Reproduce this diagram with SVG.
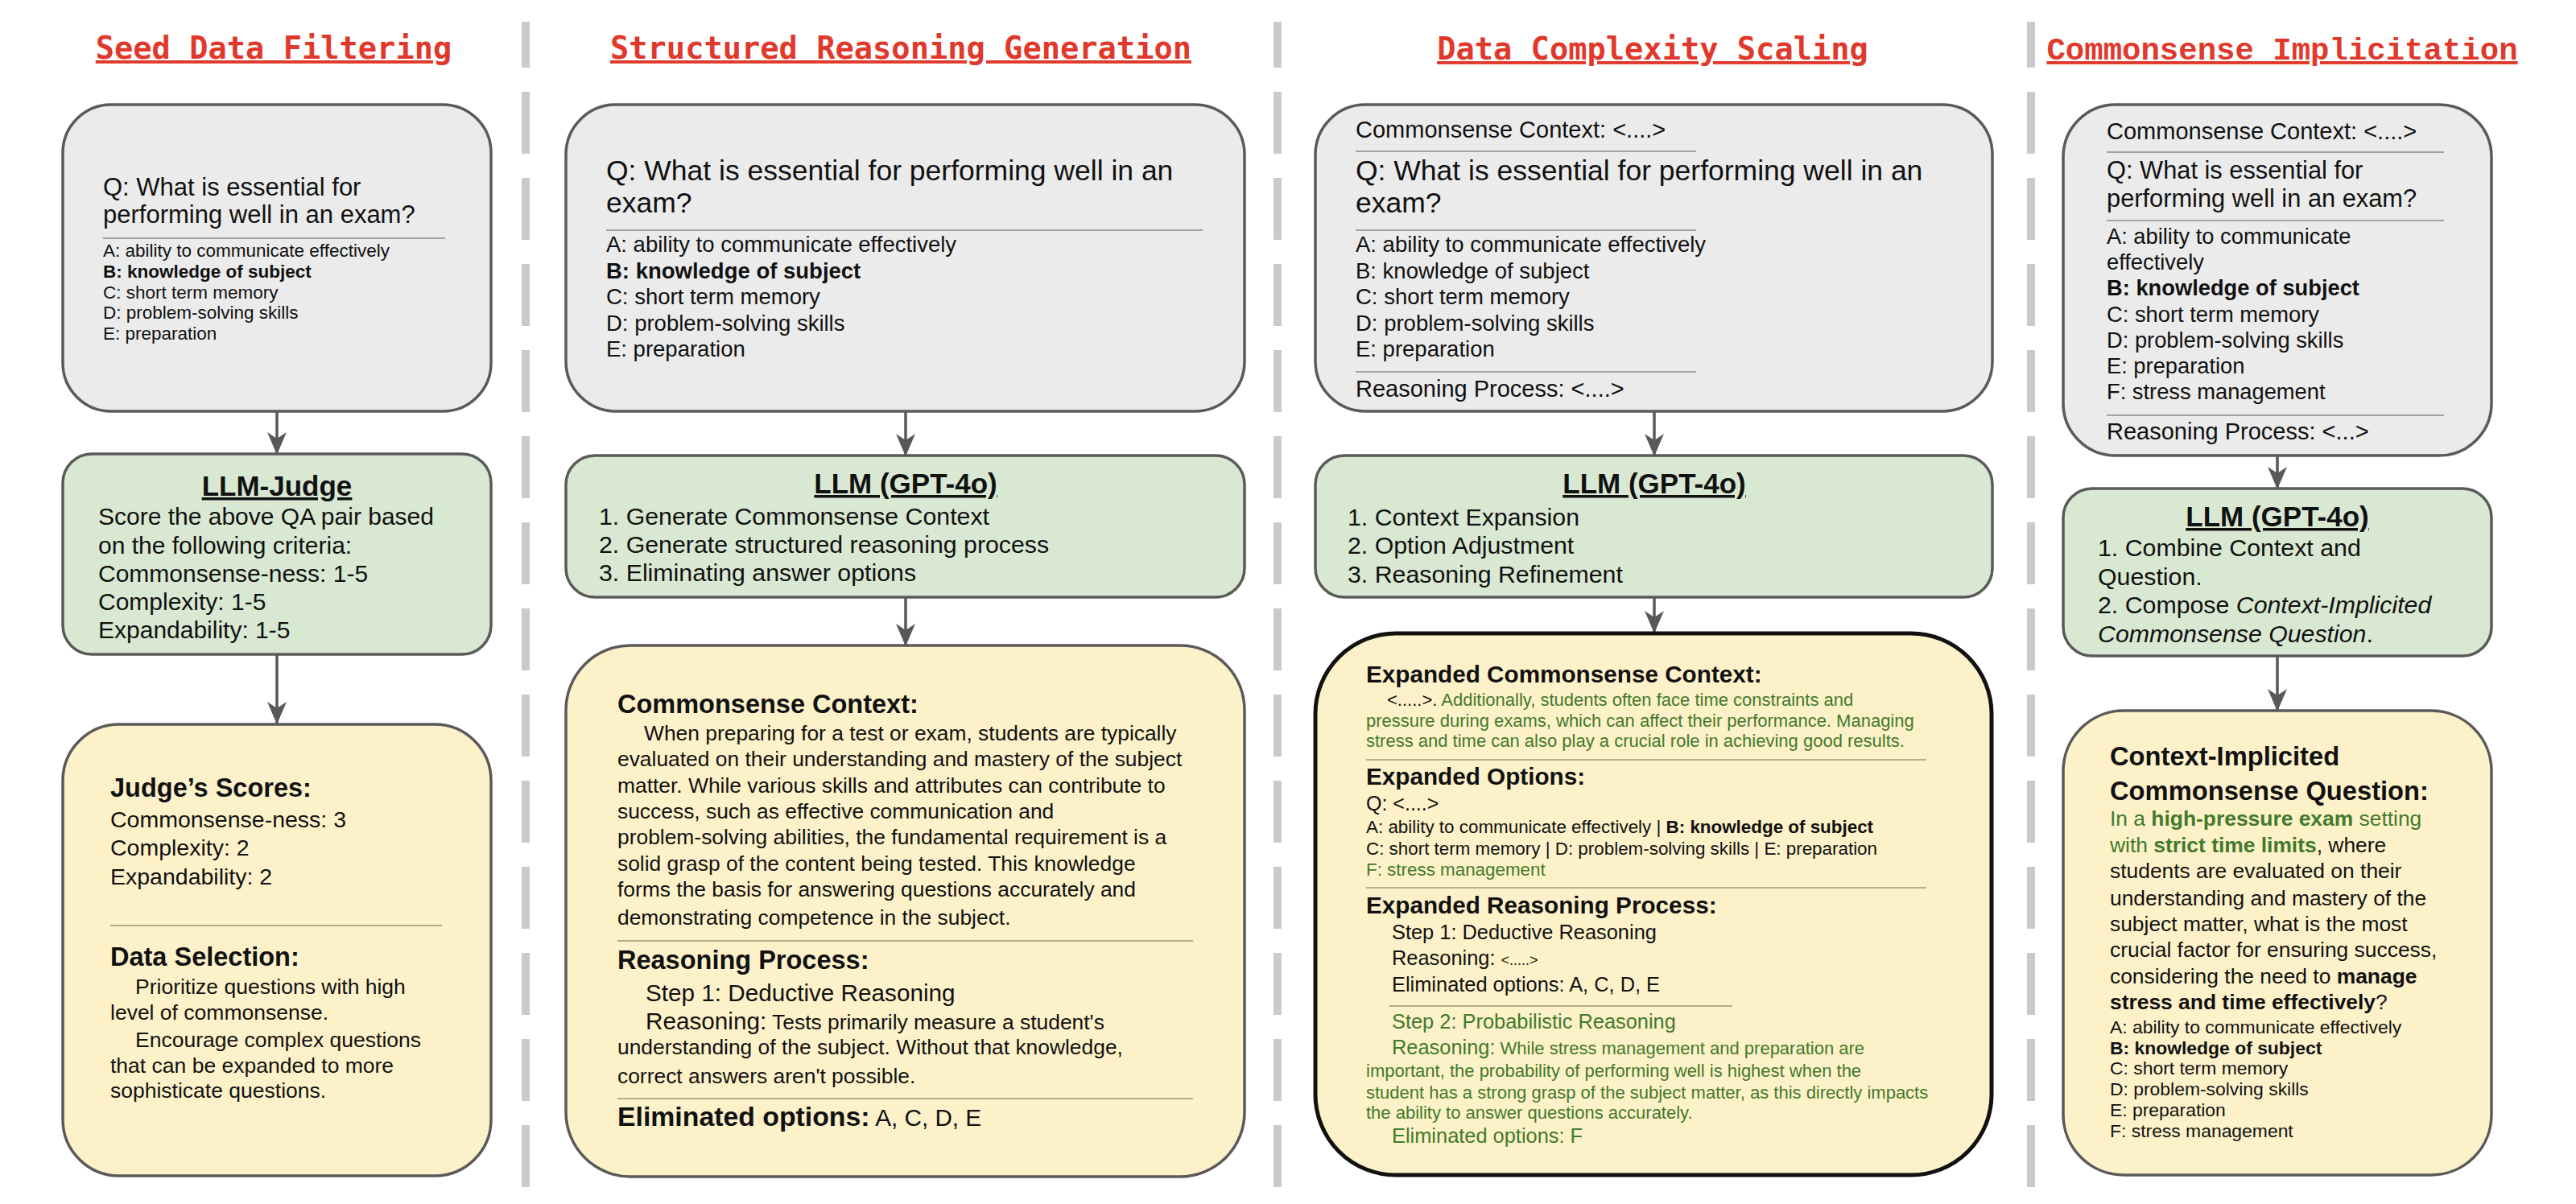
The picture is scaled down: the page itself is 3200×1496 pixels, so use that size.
<svg xmlns="http://www.w3.org/2000/svg" width="3200" height="1496" viewBox="0 0 3200 1496">
<defs>
<style>
text{font-family:"Liberation Sans",Arial,sans-serif;fill:#111}
.b{font-weight:700}
.i{font-style:italic}
.g{fill:#427a2b}
.k{fill:#111}
.ttl{font-family:"DejaVu Sans Mono","Liberation Mono",monospace;font-weight:700;font-size:38.7px;fill:#e0392b;text-decoration:underline;text-anchor:middle}
.ttl2{font-family:"Liberation Mono","DejaVu Sans Mono",monospace;font-weight:700;font-size:39px;fill:#e0392b;text-decoration:underline;text-anchor:middle}
.gray{fill:#ebebeb;stroke:#5a5a5a;stroke-width:3.5}
.green{fill:#d9e8d2;stroke:#5a5a5a;stroke-width:3.5}
.yellow{fill:#fdf1c9;stroke:#5a5a5a;stroke-width:3.5}
.yellowk{fill:#fdf1c9;stroke:#111;stroke-width:5}
.sg{stroke:#a3a3a3;stroke-width:2}
.sy{stroke:#b5ab8d;stroke-width:2}
.col{stroke:#cacaca;stroke-width:10;stroke-dasharray:77 30;stroke-dashoffset:20}
.arr{stroke:#585858;stroke-width:3.5;fill:none;marker-end:url(#ah)}
.llm{font-weight:700;font-size:35px;text-decoration:underline;text-anchor:middle}
</style>
<marker id="ah" viewBox="0 0 28 24" refX="27" refY="12" markerWidth="28" markerHeight="24" markerUnits="userSpaceOnUse" orient="auto">
<path d="M0,0 L28,12 L0,24 L8,12 z" fill="#585858"/>
</marker>
</defs>
<rect width="3200" height="1496" fill="#fff"/>

<g id="column-separators">
<line class="col" x1="653" y1="27" x2="653" y2="1475"/>
<line class="col" x1="1587" y1="27" x2="1587" y2="1475"/>
<line class="col" x1="2523" y1="27" x2="2523" y2="1475"/>
</g>

<g id="titles">
<text class="ttl" x="340" y="73">Seed Data Filtering</text>
<text class="ttl" x="1119" y="73">Structured Reasoning Generation</text>
<text class="ttl" x="2053" y="74">Data Complexity Scaling</text>
<text class="ttl2" x="2835" y="74">Commonsense Implicitation</text>
</g>

<g id="connectors">
<line class="arr" x1="344" y1="511" x2="344" y2="564"/>
<line class="arr" x1="344" y1="813" x2="344" y2="899"/>
<line class="arr" x1="1125" y1="511" x2="1125" y2="566"/>
<line class="arr" x1="1125" y1="742" x2="1125" y2="802"/>
<line class="arr" x1="2055" y1="511" x2="2055" y2="566"/>
<line class="arr" x1="2055" y1="742" x2="2055" y2="786"/>
<line class="arr" x1="2829" y1="566" x2="2829" y2="607"/>
<line class="arr" x1="2829" y1="815" x2="2829" y2="883"/>
</g>

<!-- Column 1 -->
<g id="c1-question">
<rect class="gray" x="78" y="130" width="532" height="381" rx="60"/>
<text font-size="31" x="128" y="243">Q: What is essential for</text>
<text font-size="31" x="128" y="277">performing well in an exam?</text>
<line class="sg" x1="128" y1="296" x2="553" y2="296"/>
<g font-size="22.5">
<text x="128" y="319">A: ability to communicate effectively</text>
<text x="128" y="345" class="b">B: knowledge of subject</text>
<text x="128" y="371">C: short term memory</text>
<text x="128" y="396">D: problem-solving skills</text>
<text x="128" y="422">E: preparation</text>
</g>
</g>

<g id="c1-judge">
<rect class="green" x="78" y="564" width="532" height="249" rx="36"/>
<text class="llm" x="344" y="616" font-size="36">LLM-Judge</text>
<g font-size="30">
<text x="122" y="652">Score the above QA pair based</text>
<text x="122" y="688">on the following criteria:</text>
<text x="122" y="723">Commonsense-ness: 1-5</text>
<text x="122" y="758">Complexity: 1-5</text>
<text x="122" y="793">Expandability: 1-5</text>
</g>
</g>

<g id="c1-scores">
<rect class="yellow" x="78" y="900" width="532" height="561" rx="70"/>
<text class="b" font-size="32.5" x="137" y="990">Judge’s Scores:</text>
<g font-size="28.5">
<text x="137" y="1028">Commonsense-ness: 3</text>
<text x="137" y="1063">Complexity: 2</text>
<text x="137" y="1099">Expandability: 2</text>
</g>
<line class="sy" x1="137" y1="1150" x2="549" y2="1150"/>
<text class="b" font-size="32.5" x="137" y="1200">Data Selection:</text>
<g font-size="26.5">
<text x="168" y="1235">Prioritize questions with high</text>
<text x="137" y="1267">level of commonsense.</text>
<text x="168" y="1301">Encourage complex questions</text>
<text x="137" y="1333">that can be expanded to more</text>
<text x="137" y="1364">sophisticate questions.</text>
</g>
</g>

<!-- Column 2 -->
<g id="c2-question">
<rect class="gray" x="703" y="130" width="843" height="381" rx="62"/>
<text font-size="35.5" x="753" y="224">Q: What is essential for performing well in an</text>
<text font-size="35.5" x="753" y="264">exam?</text>
<line class="sg" x1="753" y1="286" x2="1494" y2="286"/>
<g font-size="27.5">
<text x="753" y="313">A: ability to communicate effectively</text>
<text x="753" y="345.5" class="b">B: knowledge of subject</text>
<text x="753" y="378">C: short term memory</text>
<text x="753" y="410.5">D: problem-solving skills</text>
<text x="753" y="443">E: preparation</text>
</g>
</g>

<g id="c2-llm">
<rect class="green" x="703" y="566" width="843" height="176" rx="36"/>
<text class="llm" x="1125" y="613">LLM (GPT-4o)</text>
<g font-size="30.3">
<text x="744" y="652">1. Generate Commonsense Context</text>
<text x="744" y="687">2. Generate structured reasoning process</text>
<text x="744" y="722">3. Eliminating answer options</text>
</g>
</g>

<g id="c2-reasoning">
<rect class="yellow" x="703" y="802" width="843" height="660" rx="80"/>
<text class="b" font-size="32.5" x="767" y="886">Commonsense Context:</text>
<g font-size="26.4">
<text x="800" y="920">When preparing for a test or exam, students are typically</text>
<text x="767" y="952">evaluated on their understanding and mastery of the subject</text>
<text x="767" y="985">matter. While various skills and attributes can contribute to</text>
<text x="767" y="1017">success, such as effective communication and</text>
<text x="767" y="1049">problem-solving abilities, the fundamental requirement is a</text>
<text x="767" y="1082">solid grasp of the content being tested. This knowledge</text>
<text x="767" y="1114">forms the basis for answering questions accurately and</text>
<text x="767" y="1149">demonstrating competence in the subject.</text>
</g>
<line class="sy" x1="767" y1="1169" x2="1482" y2="1169"/>
<text class="b" font-size="32.5" x="767" y="1204">Reasoning Process:</text>
<text font-size="29.7" x="802" y="1244">Step 1: Deductive Reasoning</text>
<text font-size="29.7" x="802" y="1279">Reasoning:<tspan font-size="26.4"> Tests primarily measure a student's</tspan></text>
<text font-size="26.4" x="767" y="1310">understanding of the subject. Without that knowledge,</text>
<text font-size="26.4" x="767" y="1346">correct answers aren't possible.</text>
<line class="sy" x1="767" y1="1365" x2="1482" y2="1365"/>
<text font-size="33.8" x="767" y="1399"><tspan class="b">Eliminated options:</tspan><tspan font-size="29.7"> A, C, D, E</tspan></text>
</g>

<!-- Column 3 -->
<g id="c3-question">
<rect class="gray" x="1634" y="130" width="841" height="381" rx="62"/>
<text font-size="29" x="1684" y="171">Commonsense Context: &lt;....&gt;</text>
<line class="sg" x1="1684" y1="188" x2="2107" y2="188"/>
<text font-size="35.5" x="1684" y="224">Q: What is essential for performing well in an</text>
<text font-size="35.5" x="1684" y="264">exam?</text>
<line class="sg" x1="1684" y1="286" x2="2107" y2="286"/>
<g font-size="27.5">
<text x="1684" y="313">A: ability to communicate effectively</text>
<text x="1684" y="345.5">B: knowledge of subject</text>
<text x="1684" y="378">C: short term memory</text>
<text x="1684" y="410.5">D: problem-solving skills</text>
<text x="1684" y="443">E: preparation</text>
</g>
<line class="sg" x1="1684" y1="462" x2="2107" y2="462"/>
<text font-size="29" x="1684" y="493">Reasoning Process: &lt;....&gt;</text>
</g>

<g id="c3-llm">
<rect class="green" x="1634" y="566" width="841" height="176" rx="36"/>
<text class="llm" x="2055" y="613">LLM (GPT-4o)</text>
<g font-size="30.3">
<text x="1674" y="653">1. Context Expansion</text>
<text x="1674" y="688">2. Option Adjustment</text>
<text x="1674" y="724">3. Reasoning Refinement</text>
</g>
</g>

<g id="c3-expanded">
<rect class="yellowk" x="1634" y="787" width="840" height="673" rx="100"/>
<text class="b" font-size="29.7" x="1697" y="848">Expanded Commonsense Context:</text>
<g font-size="22">
<text x="1723" y="877">&lt;.....&gt;.<tspan class="g"> Additionally, students often face time constraints and</tspan></text>
<text class="g" x="1697" y="903">pressure during exams, which can affect their performance. Managing</text>
<text class="g" x="1697" y="928">stress and time can also play a crucial role in achieving good results.</text>
</g>
<line class="sy" x1="1697" y1="944" x2="2393" y2="944"/>
<text class="b" font-size="29.7" x="1697" y="975">Expanded Options:</text>
<text font-size="25" x="1697" y="1007">Q: &lt;....&gt;</text>
<g font-size="22.4">
<text x="1697" y="1035">A: ability to communicate effectively | <tspan class="b">B: knowledge of subject</tspan></text>
<text x="1697" y="1062">C: short term memory | D: problem-solving skills | E: preparation</text>
<text class="g" x="1697" y="1088">F: stress management</text>
</g>
<line class="sy" x1="1697" y1="1103" x2="2393" y2="1103"/>
<text class="b" font-size="29.7" x="1697" y="1135">Expanded Reasoning Process:</text>
<g font-size="25.4">
<text x="1729" y="1167">Step 1: Deductive Reasoning</text>
<text x="1729" y="1199">Reasoning: <tspan font-size="18">&lt;.....&gt;</tspan></text>
<text x="1729" y="1232">Eliminated options: A, C, D, E</text>
</g>
<line class="sy" x1="1726" y1="1250" x2="2152" y2="1250"/>
<g font-size="25.4" class="g">
<text class="g" x="1729" y="1278">Step 2: Probabilistic Reasoning</text>
<text class="g" x="1729" y="1310">Reasoning:<tspan font-size="22"> While stress management and preparation are</tspan></text>
<text class="g" font-size="22" x="1697" y="1338">important, the probability of performing well is highest when the</text>
<text class="g" font-size="22" x="1697" y="1365">student has a strong grasp of the subject matter, as this directly impacts</text>
<text class="g" font-size="22" x="1697" y="1390">the ability to answer questions accurately.</text>
<text class="g" x="1729" y="1420">Eliminated options: F</text>
</g>
</g>

<!-- Column 4 -->
<g id="c4-question">
<rect class="gray" x="2563" y="130" width="532" height="436" rx="65"/>
<text font-size="29" x="2617" y="173">Commonsense Context: &lt;....&gt;</text>
<line class="sg" x1="2617" y1="189" x2="3036" y2="189"/>
<text font-size="30.8" x="2617" y="222">Q: What is essential for</text>
<text font-size="30.8" x="2617" y="257">performing well in an exam?</text>
<line class="sg" x1="2617" y1="274" x2="3036" y2="274"/>
<g font-size="27.3">
<text x="2617" y="303">A: ability to communicate</text>
<text x="2617" y="335">effectively</text>
<text x="2617" y="367" class="b">B: knowledge of subject</text>
<text x="2617" y="400">C: short term memory</text>
<text x="2617" y="432">D: problem-solving skills</text>
<text x="2617" y="464">E: preparation</text>
<text x="2617" y="496">F: stress management</text>
</g>
<line class="sg" x1="2617" y1="516" x2="3036" y2="516"/>
<text font-size="29" x="2617" y="546">Reasoning Process: &lt;...&gt;</text>
</g>

<g id="c4-llm">
<rect class="green" x="2563" y="607" width="532" height="208" rx="36"/>
<text class="llm" x="2829" y="654">LLM (GPT-4o)</text>
<g font-size="30.3">
<text x="2606" y="691">1. Combine Context and</text>
<text x="2606" y="727">Question.</text>
<text x="2606" y="762">2. Compose <tspan class="i">Context-Implicited</tspan></text>
<text x="2606" y="798"><tspan class="i">Commonsense Question</tspan>.</text>
</g>
</g>

<g id="c4-implicited">
<rect class="yellow" x="2563" y="883" width="532" height="577" rx="75"/>
<text class="b" font-size="32.7" x="2621" y="951">Context-Implicited</text>
<text class="b" font-size="32.7" x="2621" y="994">Commonsense Question:</text>
<g font-size="26.4">
<text x="2621" y="1026" class="g">In a <tspan class="b">high-pressure exam</tspan> setting</text>
<text x="2621" y="1059"><tspan class="g">with </tspan><tspan class="g b">strict time limits</tspan>, where</text>
<text x="2621" y="1091">students are evaluated on their</text>
<text x="2621" y="1125">understanding and mastery of the</text>
<text x="2621" y="1157">subject matter, what is the most</text>
<text x="2621" y="1189">crucial factor for ensuring success,</text>
<text x="2621" y="1222">considering the need to <tspan class="b">manage</tspan></text>
<text x="2621" y="1254"><tspan class="b">stress and time effectively</tspan>?</text>
</g>
<g font-size="22.9">
<text x="2621" y="1284">A: ability to communicate effectively</text>
<text x="2621" y="1310" class="b">B: knowledge of subject</text>
<text x="2621" y="1335">C: short term memory</text>
<text x="2621" y="1361">D: problem-solving skills</text>
<text x="2621" y="1387">E: preparation</text>
<text x="2621" y="1413">F: stress management</text>
</g>
</g>
</svg>
